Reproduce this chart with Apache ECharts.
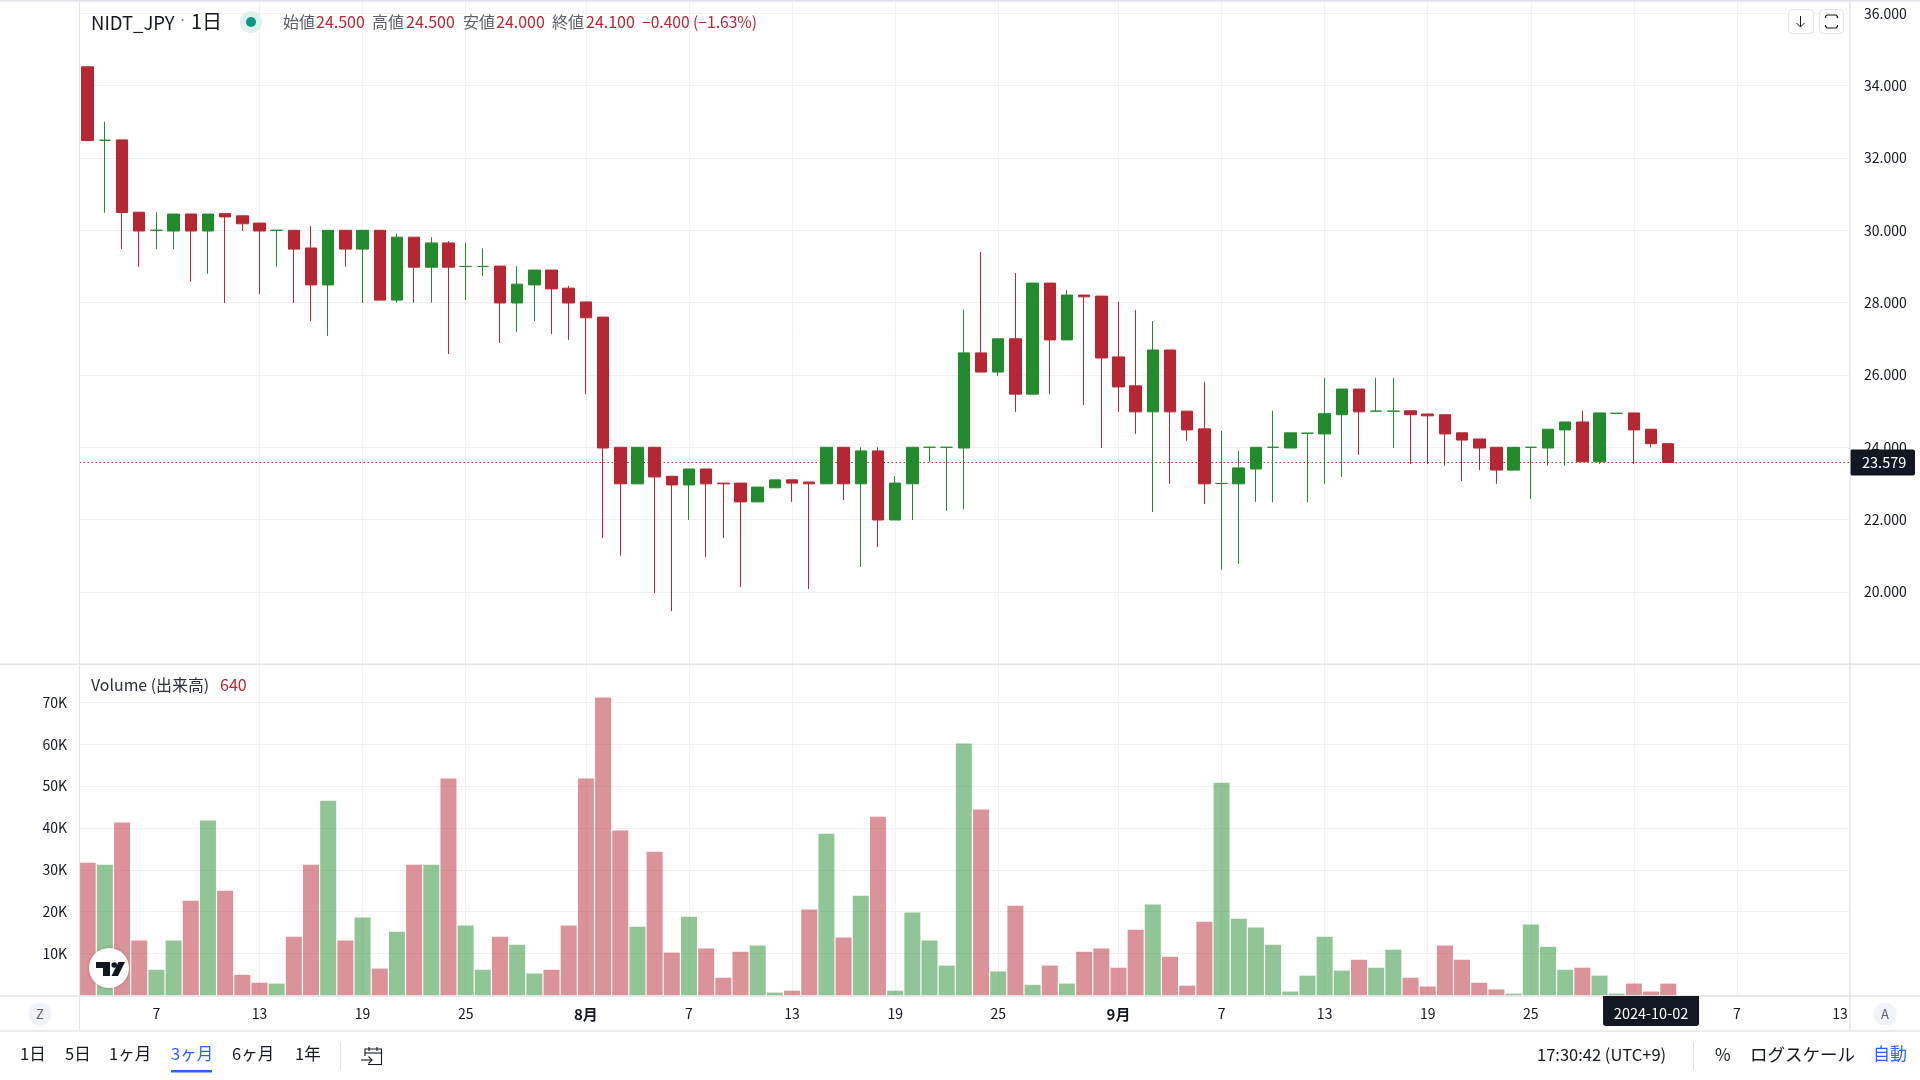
<!DOCTYPE html>
<html lang="ja">
<head>
<meta charset="utf-8">
<title>NIDT_JPY</title>
<style>html,body{margin:0;padding:0;background:#fff}#c{width:1920px;height:1080px}</style>
<script src="https://cdn.jsdelivr.net/npm/echarts@6/dist/echarts.min.js"></script>
</head>
<body>
<div id="c"></div>
<script>
const dates = [
'2024-07-03','2024-07-04','2024-07-05','2024-07-06','2024-07-07','2024-07-08','2024-07-09','2024-07-10','2024-07-11','2024-07-12',
'2024-07-13','2024-07-14','2024-07-15','2024-07-16','2024-07-17','2024-07-18','2024-07-19','2024-07-20','2024-07-21','2024-07-22',
'2024-07-23','2024-07-24','2024-07-25','2024-07-26','2024-07-27','2024-07-28','2024-07-29','2024-07-30','2024-07-31','2024-08-01',
'2024-08-02','2024-08-03','2024-08-04','2024-08-05','2024-08-06','2024-08-07','2024-08-08','2024-08-09','2024-08-10','2024-08-11',
'2024-08-12','2024-08-13','2024-08-14','2024-08-15','2024-08-16','2024-08-17','2024-08-18','2024-08-19','2024-08-20','2024-08-21',
'2024-08-22','2024-08-23','2024-08-24','2024-08-25','2024-08-26','2024-08-27','2024-08-28','2024-08-29','2024-08-30','2024-08-31',
'2024-09-01','2024-09-02','2024-09-03','2024-09-04','2024-09-05','2024-09-06','2024-09-07','2024-09-08','2024-09-09','2024-09-10',
'2024-09-11','2024-09-12','2024-09-13','2024-09-14','2024-09-15','2024-09-16','2024-09-17','2024-09-18','2024-09-19','2024-09-20',
'2024-09-21','2024-09-22','2024-09-23','2024-09-24','2024-09-25','2024-09-26','2024-09-27','2024-09-28','2024-09-29','2024-09-30',
'2024-10-01','2024-10-02','2024-10-03'];
const opens = [34.52,32.49,32.5,30.5,30,29.98,30.45,29.98,30.46,30.4,30.2,30,30,29.51,28.49,30,29.48,30,28.07,29.81,28.98,29.65,29,29,29.01,27.99,28.49,28.9,28.4,28.02,27.6,24,22.99,24,23.2,22.96,23.4,23.01,23.01,22.49,22.88,23.1,23.04,22.99,24,22.99,23.9,21.99,22.99,24,24,23.98,26.61,26.08,27,25.47,28.54,26.97,28.21,28.18,26.5,25.7,24.98,26.69,25,24.51,23,22.99,23.4,24,23.98,24.39,24.37,24.9,25.61,25,25,25.01,24.92,24.9,24.4,24.23,24,23.37,24,23.98,24.48,24.7,23.6,24.94,24.95,24.5,24.1];
const closes = [32.48,32.49,30.49,29.98,30,30.45,29.98,30.45,30.37,30.18,29.98,30,29.48,28.49,30,29.48,30,28.07,29.81,28.98,29.65,28.98,29,29,27.99,28.51,28.9,28.38,27.99,27.58,23.98,22.99,24,23.18,22.96,23.4,22.99,22.99,22.49,22.9,23.1,23.01,22.99,24,22.99,23.9,21.99,23.01,24,24,24,26.61,26.08,27,25.47,28.54,26.97,28.21,28.16,26.47,25.67,24.98,26.69,24.98,24.48,22.99,23,23.43,24,24,24.4,24.39,24.93,25.61,24.98,25,25,24.9,24.87,24.37,24.2,23.98,23.37,24,24,24.5,24.7,23.6,24.95,24.94,24.48,24.1,23.579];
const lows = [32.48,30.49,29.48,28.99,29.48,29.48,28.58,28.8,27.99,29.98,28.24,28.99,27.99,27.49,27.08,28.99,27.99,28.07,28,28,28,26.58,28.07,28.74,26.88,27.19,27.49,27.13,26.97,25.47,21.49,21,22.99,19.97,19.47,21.99,20.97,21.49,20.14,22.49,22.88,22.49,20.08,22.99,22.54,20.69,21.24,21.99,21.99,23.59,22.24,22.29,26.08,25.97,24.98,25.47,25.47,26.97,25.17,23.98,24.98,24.37,22.21,22.99,24.18,22.43,20.61,20.77,22.49,22.48,23.98,22.48,22.99,23.18,23.79,25,23.98,23.54,23.54,23.49,23.07,23.37,22.99,23.37,22.57,23.49,23.49,23.6,23.54,24.94,23.54,24,23.579];
const highs = [34.52,33,32.5,30.5,30.5,30.45,30.45,30.45,30.46,30.4,30.2,30,30,30.12,30,30,30,30,29.9,29.81,29.81,29.7,29.65,29.5,29.01,29.01,28.9,28.9,28.46,28.02,27.6,24,24,24,23.2,23.4,23.4,23.01,23.01,22.9,23.1,23.1,23.04,24,24,24,24,23.2,24,24,24,27.8,29.4,27,28.82,28.54,28.54,28.35,28.21,28.18,28.02,27.8,27.49,26.69,25,25.81,24.45,23.9,24,25.01,24.4,24.39,25.92,25.61,25.61,25.92,25.92,25.01,24.92,24.9,24.4,24.23,24,24,24,24.5,24.7,25.01,24.95,24.94,24.95,24.5,24.1];
const volumes = [31700,31200,41300,13100,6100,13100,22600,41800,25000,4900,3000,2800,14000,31200,46500,13100,18600,6400,15200,31200,31200,51800,16700,6100,14000,12100,5200,6100,16700,51800,71200,39400,16400,34300,10200,18800,11200,4200,10400,11900,640,1100,20500,38600,13800,23800,42700,1100,19800,13100,7100,60200,44400,5700,21400,2500,7100,2800,10400,11200,6600,15700,21700,9200,2300,17600,50800,18300,16200,12100,900,4700,14000,5900,8500,6600,10900,4200,2100,11900,8500,3000,1400,400,16900,11600,6100,6600,4700,400,2800,900,2800];
const gridDates = ['2024-07-07','2024-07-13','2024-07-19','2024-07-25','2024-08-01','2024-08-07','2024-08-13','2024-08-19','2024-08-25','2024-09-01','2024-09-07','2024-09-13','2024-09-19','2024-09-25','2024-10-01','2024-10-07','2024-10-13'];
const labelDates = ['2024-07-07','2024-07-13','2024-07-19','2024-07-25','2024-08-01','2024-08-07','2024-08-13','2024-08-19','2024-08-25','2024-09-01','2024-09-07','2024-09-13','2024-09-19','2024-09-25','2024-10-07','2024-10-13'];
const labelTexts = ['7','13','19','25','8月','7','13','19','25','9月','7','13','19','25','7','13'];
const lastPrice = 23.579;
const crosshairDate = '2024-10-02';
const rangeButtons = [['1日',20],['5日',65],['1ヶ月',109],['3ヶ月',171],['6ヶ月',232],['1年',295]];

const RED = '#b72733', GREEN = '#228b2b', GRIDC = '#f1f1f2', LINE = '#e4e4e6', INK = '#131722';
const FONT = '"Noto Sans CJK JP","Noto Sans",sans-serif';
const DAY = 86400000;
const t0 = Date.UTC(2024, 6, 3);
const dayIndex = s => Math.round((Date.parse(s + 'T00:00:00Z') - t0) / DAY);
const xMin = -0.477, xMax = 102.58;
const labelMap = {};
labelDates.forEach((d, i) => { labelMap[dayIndex(d)] = labelTexts[i]; });

const candles = dates.map((d, i) => [dayIndex(d), opens[i], closes[i], lows[i], highs[i]]);
const bars = dates.map((d, i) => ({
  value: [dayIndex(d), volumes[i]],
  itemStyle: { color: closes[i] < opens[i] ? 'rgba(183,39,51,0.5)' : 'rgba(34,139,43,0.5)' }
}));

const chart = echarts.init(document.getElementById('c'), null, { renderer: 'canvas', width: 1920, height: 1080 });

const baseX = {
  type: 'value', min: xMin, max: xMax,
  axisLine: { show: false },
  axisTick: { show: false, customValues: gridDates.map(dayIndex) },
  splitLine: { show: true, showMinLine: false, showMaxLine: false, lineStyle: { color: GRIDC, width: 1 } }
};

chart.setOption({
  animation: false,
  backgroundColor: '#fff',
  textStyle: { fontFamily: FONT },
  grid: [
    { left: 79.5, width: 1770.5, top: 1.5, height: 662.8, show: false, containLabel: false },
    { left: 79.5, width: 1770.5, top: 664.3, height: 331, show: false, containLabel: false }
  ],
  xAxis: [
    Object.assign({}, baseX, { gridIndex: 0, axisLabel: { show: false } }),
    Object.assign({}, baseX, {
      gridIndex: 1,
      axisLabel: {
        show: true, customValues: labelDates.map(dayIndex), margin: 11, color: INK, fontSize: 14, fontFamily: FONT,
        hideOverlap: false,
        formatter: v => {
          const t = labelMap[v] || '';
          return t.indexOf('月') >= 0 ? '{b|' + t + '}' : t;
        },
        rich: { b: { fontWeight: 'bold', fontSize: 15, color: INK, fontFamily: FONT } }
      }
    })
  ],
  yAxis: [
    {
      type: 'value', gridIndex: 0, position: 'right', min: 18, max: 36.326, interval: 2, scale: true,
      axisLine: { show: false }, axisTick: { show: false },
      splitLine: { show: true, lineStyle: { color: GRIDC, width: 1 } },
      axisLabel: {
        margin: 14, color: INK, fontSize: 14, fontFamily: FONT, showMinLabel: false, showMaxLabel: false,
        formatter: v => v.toFixed(3)
      }
    },
    {
      type: 'value', gridIndex: 1, position: 'left', min: 0, max: 79130, interval: 10000,
      axisLine: { show: false }, axisTick: { show: false },
      splitLine: { show: true, lineStyle: { color: GRIDC, width: 1 } },
      axisLabel: {
        margin: 12.5, color: INK, fontSize: 14, fontFamily: FONT, showMinLabel: false, showMaxLabel: false,
        padding: [2, 0, 0, 0],
        formatter: v => (v / 1000) + 'K'
      }
    }
  ],
  series: [
    {
      type: 'candlestick', xAxisIndex: 0, yAxisIndex: 0, z: 3, barWidth: 12,
      encode: { x: 0, y: [1, 2, 3, 4] },
      data: candles,
      itemStyle: { color: GREEN, color0: RED, borderColor: GREEN, borderColor0: RED, borderColorDoji: GREEN, borderWidth: 1 },
      markLine: {
        silent: true, symbol: 'none', z: 1, animation: false,
        lineStyle: { color: RED, type: [1.5, 2.5], width: 1.2 },
        label: {
          show: true, position: 'end', distance: 0, formatter: lastPrice.toFixed(3),
          color: '#fff', backgroundColor: INK, fontSize: 14.5, fontFamily: FONT,
          padding: [0, 0, 0, 12], width: 53, height: 26, lineHeight: 26, align: 'left', borderRadius: 2
        },
        emphasis: { disabled: true },
        data: [{ yAxis: lastPrice }]
      }
    },
    {
      type: 'bar', xAxisIndex: 1, yAxisIndex: 1, z: 3, barWidth: 16,
      data: bars
    }
  ]
});

const txt = (text, x, y, fill, size, extra) => ({
  type: 'text', x, y, z: 30, silent: true,
  style: Object.assign({ text, fill, font: (size || 16) + 'px ' + FONT, verticalAlign: 'middle' }, extra || {})
});
const hline = (y, c) => ({ type: 'line', z: 20, silent: true, shape: { x1: 0, y1: y, x2: 1920, y2: y }, style: { stroke: c || LINE, lineWidth: 1.5 } });
const vline = (x, y1, y2, w) => ({ type: 'line', z: 20, silent: true, shape: { x1: x, y1, x2: x, y2 }, style: { stroke: LINE, lineWidth: w || 1.2 } });
const stroke = (points, w) => ({ type: 'polyline', z: 30, silent: true, shape: { points }, style: { fill: null, stroke: INK, lineWidth: w || 1.1 } });
const solid = (points) => ({ type: 'polygon', z: 31, silent: true, shape: { points }, style: { fill: INK } });

const crossX = chart.convertToPixel({ xAxisIndex: 1 }, dayIndex(crosshairDate));
const GRAY = '#5d606b', BLUE = '#2962ff';

const elements = [
  hline(0.8, '#e0e3eb'), hline(664.3), hline(996), hline(1031),
  vline(79.5, 0, 1031), vline(1850, 0, 1031),

  txt('NIDT_JPY', 91, 22.5, INK, 18.5),
  { type: 'circle', z: 30, silent: true, shape: { cx: 182.5, cy: 20, r: 1 }, style: { fill: '#787b86' } },
  txt('1日', 191, 21, INK, 20),
  { type: 'circle', z: 30, silent: true, shape: { cx: 251, cy: 22, r: 11 }, style: { fill: '#dff1ef' } },
  { type: 'circle', z: 31, silent: true, shape: { cx: 251, cy: 22, r: 5 }, style: { fill: '#089981' } },

  txt('始値', 283, 22, GRAY), txt('24.500', 316, 22, RED),
  txt('高値', 372, 22, GRAY), txt('24.500', 406, 22, RED),
  txt('安値', 463, 22, GRAY), txt('24.000', 496, 22, RED),
  txt('終値', 552, 22, GRAY), txt('24.100', 586, 22, RED),
  txt('−0.400 (−1.63%)', 642, 22, RED, 15.6),

  txt('Volume (出来高)', 91, 684.5, '#2a2e39', 15.9),
  txt('640', 220, 685, RED),

  { type: 'rect', z: 30, silent: true, shape: { x: 1788.5, y: 9.5, width: 25, height: 24, r: 4 }, style: { fill: '#fff', stroke: '#e0e3eb', lineWidth: 1 } },
  { type: 'rect', z: 30, silent: true, shape: { x: 1819.5, y: 9.5, width: 24, height: 24, r: 4 }, style: { fill: '#fff', stroke: '#e0e3eb', lineWidth: 1 } },
  stroke([[1800.5, 16], [1800.5, 27]], 1),
  stroke([[1796.5, 23], [1800.5, 27], [1804.5, 23]], 1),
  stroke([[1825.5, 18], [1825.5, 16.5], [1827, 15], [1836, 15], [1837.5, 16.5], [1837.5, 18]], 1.2),
  stroke([[1825.5, 25], [1825.5, 26.5], [1827, 28], [1836, 28], [1837.5, 26.5], [1837.5, 25]], 1.2),

  { type: 'circle', z: 30, silent: true, shape: { cx: 109, cy: 968, r: 20 }, style: { fill: '#fff', shadowBlur: 3, shadowColor: 'rgba(0,0,0,0.25)' } },
  solid([[96, 962], [110, 962], [110, 976], [103, 976], [103, 968], [96, 968]]),
  { type: 'circle', z: 31, silent: true, shape: { cx: 114.2, cy: 965, r: 2.8 }, style: { fill: INK } },
  solid([[118.5, 962], [125, 962], [118, 976], [111.5, 976]]),

  { type: 'circle', z: 30, silent: true, shape: { cx: 40, cy: 1014, r: 11.5 }, style: { fill: '#f0f3fa' } },
  txt('Z', 40, 1014, '#5d606b', 13, { align: 'center' }),
  { type: 'circle', z: 30, silent: true, shape: { cx: 1885, cy: 1014, r: 11.5 }, style: { fill: '#f0f3fa' } },
  txt('A', 1885, 1014, '#5d606b', 13, { align: 'center' }),

  { type: 'rect', z: 30, silent: true, shape: { x: crossX - 48, y: 996, width: 96, height: 30, r: [0, 0, 3, 3] }, style: { fill: INK } },
  txt(crosshairDate, crossX, 1013, '#fff', 14.5, { align: 'center' }),

  ...rangeButtons.map(([t, x]) => txt(t, x, 1054, t === '3ヶ月' ? BLUE : INK, 16.5)),
  { type: 'rect', z: 30, silent: true, shape: { x: 171, y: 1070, width: 41, height: 2.5 }, style: { fill: BLUE } },
  vline(340.5, 1042, 1070, 1),
  stroke([[365, 1056], [365, 1049], [381.5, 1049], [381.5, 1064.5], [368, 1064.5]]),
  stroke([[365, 1053], [381.5, 1053]]),
  stroke([[369, 1047], [369, 1051]]),
  stroke([[377, 1047], [377, 1051]]),
  stroke([[361, 1060], [372, 1060]]),
  stroke([[368.5, 1056.5], [372, 1060], [368.5, 1063.5]]),

  txt('17:30:42 (UTC+9)', 1537, 1055, INK, 16.5),
  vline(1693.5, 1042, 1070, 1),
  txt('%', 1715, 1055, INK, 17),
  txt('ログスケール', 1750, 1054, INK, 17.5),
  txt('自動', 1873, 1054, BLUE, 17)
];
chart.setOption({ graphic: { elements } });
</script>
</body>
</html>
